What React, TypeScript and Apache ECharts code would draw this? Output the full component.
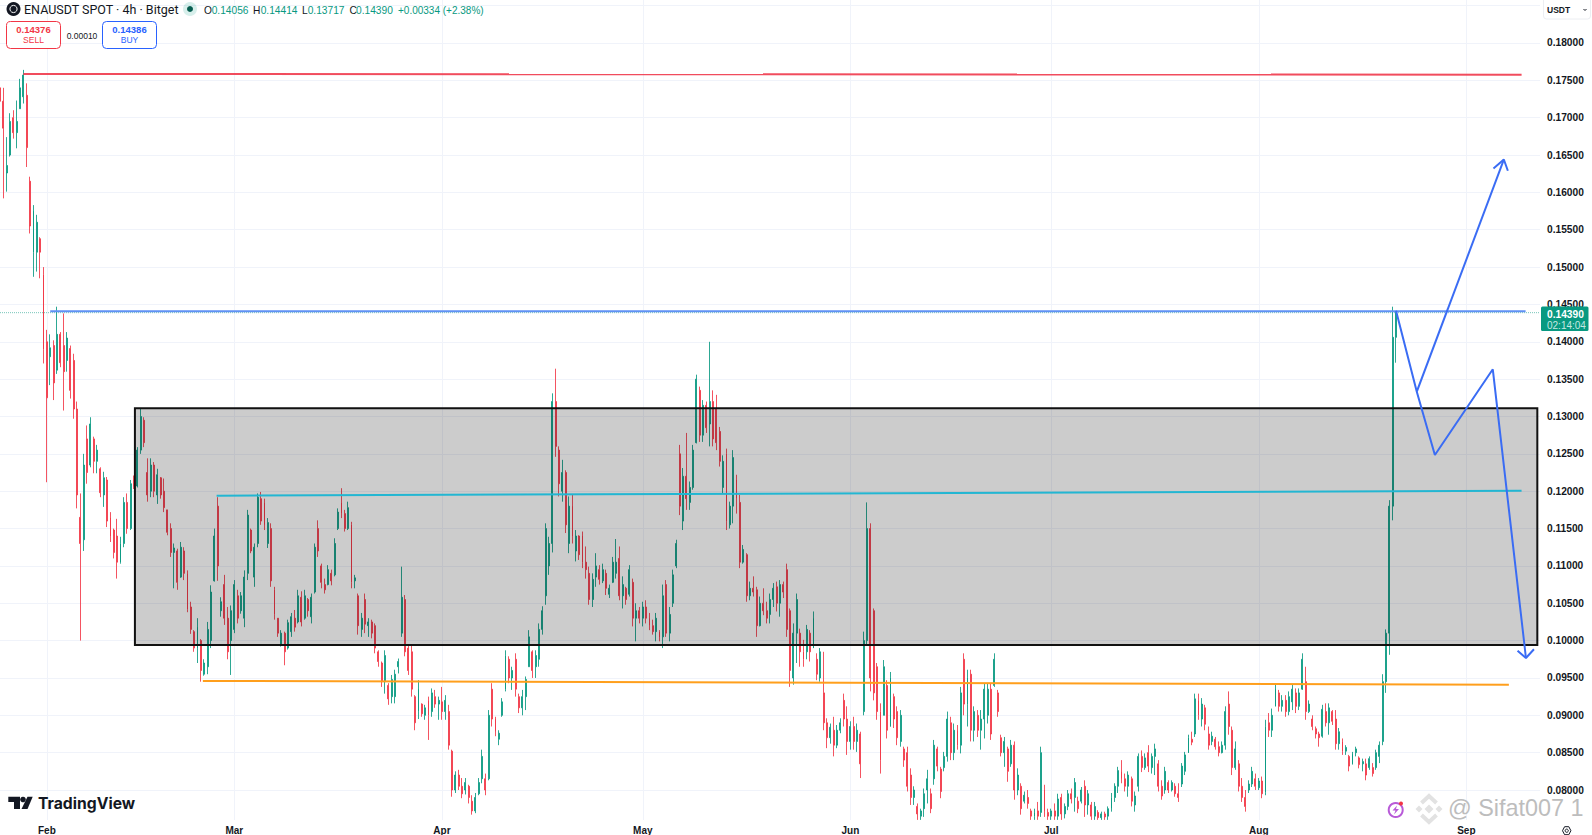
import React, { useEffect, useRef } from "react";
import * as echarts from "echarts";

// Prices are in ten-thousandths of USDT. One row per 12 hours: [open, high, low, close]
const janCandles = [
[1740,1750,1715,1722],[1722,1740,1592,1686],[1626,1674,1601,1636],[1650,1706,1648,1695],[1700,1710,1672,1680],[1680,1723,1659,1695],[1712,1752,1712,1740],
[1728,1764,1719,1757],[1730,1746,1634,1660],[1615,1621,1545,1555],[1520,1583,1487,1575],[1520,1570,1494,1560],[1538,1540,1485,1520],[1490,1500,1371,1390],
];
const febCandles = [
[1400,1416,1212,1325],[1380,1410,1342,1392],[1395,1402,1322,1345],[1362,1447,1357,1410],[1410,1413,1366,1372],[1395,1438,1308,1360],[1375,1413,1360,1405],
[1391,1395,1324,1335],[1375,1384,1297,1310],[1310,1320,1177,1195],[1165,1197,1000,1130],[1135,1250,1120,1235],[1270,1288,1210,1225],[1235,1299,1232,1290],
[1270,1273,1224,1240],[1240,1262,1224,1255],[1230,1232,1192,1198],[1195,1226,1179,1218],[1215,1219,1152,1160],[1165,1172,1132,1140],[1148,1150,1110,1118],
[1140,1163,1083,1105],[1105,1139,1103,1130],[1130,1192,1125,1185],[1185,1197,1143,1150],[1150,1215,1148,1210],[1215,1221,1203,1207],[1207,1259,1205,1255],
[1255,1310,1250,1300],[1295,1299,1259,1265],[1225,1244,1186,1195],[1200,1244,1192,1235],[1235,1239,1192,1200],[1195,1230,1183,1222],[1218,1219,1190,1195],
[1200,1217,1172,1178],[1175,1175,1141,1145],[1150,1157,1112,1118],[1118,1130,1070,1124],[1120,1123,1068,1078],[1085,1132,1084,1125],[1120,1125,1081,1090],
[1090,1094,1038,1042],[1045,1052,1009,1015],[1012,1014,985,990],[990,1030,970,1018],[1000,1002,945,960],[955,975,953,970],[965,1025,955,1015],
[1000,1074,990,1065],[1080,1150,1079,1140],[1180,1192,1080,1100],[1040,1058,1032,1052],[1075,1088,1021,1030],[1030,1045,975,985],[1000,1047,954,1040],
];
const marCandles = [
[1015,1081,1010,1075],[1060,1068,1023,1030],[1040,1065,1036,1060],[1030,1094,1018,1085],[1090,1175,1081,1168],[1148,1150,1117,1120],[1085,1130,1072,1125],
[1130,1197,1125,1192],[1190,1199,1155,1160],[1185,1190,1148,1155],[1130,1164,1124,1158],[1150,1157,1072,1080],[1068,1072,1028,1035],[1030,1030,1005,1010],
[995,1014,992,1010],[1010,1012,967,985],[990,1028,988,1024],[1012,1037,1005,1032],[1030,1041,1012,1018],[1025,1068,1023,1060],[1058,1066,1019,1025],
[1030,1068,1028,1060],[1055,1057,1032,1040],[1032,1063,1023,1058],[1065,1130,1063,1125],[1150,1161,1112,1120],[1100,1103,1070,1078],[1075,1083,1063,1068],
[1075,1101,1074,1095],[1090,1095,1074,1080],[1088,1137,1086,1130],[1150,1177,1148,1172],[1185,1204,1164,1170],[1170,1175,1146,1150],[1150,1186,1148,1178],
[1155,1159,1070,1078],[1080,1088,1070,1084],[1060,1063,1008,1020],[1015,1037,1005,1030],[1055,1063,1010,1022],[1020,1030,1005,1025],[1025,1028,1003,1010],
[1020,1023,983,990],[985,987,965,972],[970,972,938,945],[945,987,929,980],[940,943,914,922],[925,954,916,948],[925,961,916,955],[965,976,956,972],
[1010,1099,1005,1058],[1055,1061,979,985],[990,994,954,960],[985,994,925,935],[925,927,880,890],[905,947,895,935],[915,916,898,902],[900,914,894,910],
[920,925,867,900],[905,936,898,930],[925,934,910,915],[915,925,894,920],
];
const aprCandles = [
[918,938,894,905],[905,927,894,920],[905,914,854,860],[852,854,791,800],[800,825,796,820],[820,827,800,805],[805,816,789,795],[800,816,794,810],
[805,807,782,790],[785,793,767,772],[772,796,769,790],[795,816,793,810],[815,854,809,845],[815,822,793,800],[815,907,813,900],[935,943,885,895],
[895,898,872,878],[868,880,860,876],[900,923,898,918],[935,987,932,980],[975,979,943,950],[950,965,934,960],[975,983,925,935],[925,929,903,910],
[910,934,900,925],[925,952,907,948],[965,1014,965,1005],[985,987,950,960],[965,987,950,980],[975,1023,965,1015],[1015,1046,1008,1040],[1060,1157,1048,1150],
[1100,1139,1088,1130],[1130,1331,1118,1320],[1320,1364,1246,1260],[1255,1260,1193,1210],[1200,1242,1186,1225],[1225,1228,1144,1155],[1130,1193,1117,1180],
[1180,1195,1130,1140],[1120,1148,1106,1140],[1140,1141,1108,1115],[1140,1146,1097,1105],[1105,1126,1083,1095],[1090,1099,1048,1055],[1055,1090,1045,1082],
[1085,1117,1072,1100],[1095,1101,1075,1082],[1080,1103,1077,1095],[1090,1095,1061,1070],[1062,1075,1057,1070],[1078,1112,1077,1105],[1090,1136,1083,1105],
[1110,1126,1054,1060],[1060,1086,1043,1075],[1070,1072,1048,1055],[1062,1101,1059,1095],[1078,1083,1019,1030],[1030,1050,999,1040],[1040,1045,1023,1030],
];
const mayCandles = [
[1030,1052,1019,1045],[1045,1054,1023,1030],[1030,1037,1014,1020],[1020,1028,1008,1012],[1012,1037,999,1030],[1012,1014,999,1004],[1005,1075,990,1060],
[1075,1081,1005,1010],[1010,1045,999,1035],[1050,1095,1045,1088],[1100,1135,1097,1130],[1250,1262,1168,1180],[1160,1231,1148,1220],[1220,1278,1175,1190],
[1185,1213,1175,1205],[1205,1262,1202,1255],[1265,1356,1264,1350],[1335,1340,1266,1275],[1275,1322,1266,1315],[1315,1320,1278,1285],[1290,1400,1260,1320],
[1320,1335,1260,1270],[1310,1329,1255,1265],[1280,1286,1233,1240],[1205,1248,1197,1240],[1250,1257,1148,1160],[1155,1186,1150,1180],[1180,1255,1157,1245],
[1215,1222,1170,1190],[1185,1195,1097,1105],[1105,1128,1103,1122],[1115,1117,1052,1060],[1060,1079,1054,1070],[1070,1086,1059,1065],[1068,1072,1005,1020],
[1020,1059,1019,1050],[1050,1070,1034,1040],[1040,1052,1023,1030],[1035,1063,1023,1055],[1055,1077,1045,1070],[1072,1079,1039,1050],[1050,1081,1032,1075],
[1075,1079,1057,1065],[1095,1103,1005,1015],[1040,1043,938,960],[950,1023,941,1010],[1010,1063,970,1055],[1010,1016,965,985],[985,1001,965,975],
[985,1021,975,1015],[1010,1014,972,985],[990,1039,990,1030],[975,983,947,955],[950,990,945,985],[930,985,880,890],[890,896,856,870],[870,889,862,884],
[880,898,845,860],[860,887,856,880],[880,896,876,890],[920,929,885,895],[895,912,847,865],
];
const junCandles = [
[865,892,854,885],[885,898,854,865],[865,889,851,880],[875,878,816,835],[905,1012,900,1000],[1000,1185,994,1150],[1150,1157,932,950],[1040,1043,920,930],
[965,970,894,905],[905,916,822,840],[900,974,900,965],[940,947,869,880],[885,958,885,950],[925,929,883,895],[905,912,860,870],[865,907,858,900],
[855,858,831,840],[850,858,798,805],[820,829,780,790],[790,805,780,800],[778,782,760,768],[765,775,760,772],[775,802,764,795],[800,827,782,815],
[795,802,769,775],[815,867,807,860],[855,858,825,832],[828,831,789,798],[830,851,825,845],[845,905,838,895],[890,898,840,850],[850,889,840,880],
[880,887,854,860],[860,938,849,930],[975,983,900,915],[915,961,885,950],[955,961,865,880],[880,912,865,905],[900,907,871,880],[880,907,854,895],
[895,943,869,935],[900,943,889,935],[935,943,867,875],[940,983,938,975],[930,934,898,905],[870,874,845,850],[850,871,831,865],[855,858,811,825],
[835,867,831,860],[860,865,787,800],[800,829,793,820],[805,809,767,775],[785,798,782,793],[790,800,775,782],[772,775,760,765],[765,775,760,770],
[772,784,760,765],[770,858,764,850],[800,807,764,772],[770,775,760,765],
];
const julCandles = [
[765,775,760,772],[772,782,760,765],[765,795,760,788],[790,795,760,768],[768,782,762,778],[778,800,773,795],[795,802,782,788],[790,816,771,810],
[785,791,769,775],[785,804,782,800],[805,813,764,780],[780,800,767,795],[780,784,760,765],[765,784,760,778],[770,773,760,763],[763,771,760,768],
[768,771,760,764],[765,778,760,775],[775,796,771,790],[790,809,784,805],[805,831,796,826],[825,840,809,815],[815,822,798,805],[805,825,791,820],
[815,818,778,785],[780,798,771,792],[805,849,798,845],[845,853,824,830],[830,849,827,843],[850,860,824,832],[830,849,822,845],[845,862,820,855],
[835,840,798,805],[805,813,787,792],[800,831,795,825],[810,813,796,800],[800,813,798,810],[805,809,791,795],[795,809,784,790],[808,836,804,832],
[825,851,820,847],[850,874,851,870],[868,878,860,864],[875,929,871,922],[920,929,894,900],[895,923,885,915],[910,914,880,888],[875,885,854,860],
[865,878,860,872],[868,871,854,858],[858,865,845,850],[850,865,849,860],[860,912,854,905],[915,932,874,885],[880,885,820,830],[830,865,827,855],
[835,840,798,805],[805,816,784,790],[790,800,771,778],[800,813,796,808],[808,831,804,825],[815,822,800,805],
];
const augCandles = [
[803,816,800,812],[812,818,789,795],[797,894,793,885],[890,903,871,880],[880,909,871,900],[912,941,912,935],[930,934,905,912],[912,927,905,920],
[920,927,898,905],[905,932,900,925],[918,941,907,935],[930,936,903,912],[912,936,907,930],[935,983,934,975],[945,965,894,905],[905,920,903,915],
[895,900,880,885],[882,885,869,875],[875,878,858,870],[872,914,870,908],[905,916,885,890],[890,916,874,910],[905,907,887,892],[895,907,854,862],
[862,883,854,878],[865,869,847,852],[852,860,847,857],[845,847,825,832],[835,851,834,848],[850,858,845,855],[843,845,829,834],[835,842,825,838],
[835,842,813,820],[830,845,827,842],[830,836,818,822],[830,854,827,850],[845,865,836,860],[865,955,860,945],[945,1015,930,1010],[1010,1188,981,1180],
[1180,1447,1161,1406],[1406,1441,1372,1439],
];

const monthLabels = ["Feb", "Mar", "Apr", "May", "Jun", "Jul", "Aug", "Sep"];
const monthBars = [14, 70, 132, 192, 254, 314, 376, 438];
const priceTicks = [0.08, 0.085, 0.09, 0.095, 0.1, 0.105, 0.11, 0.115, 0.12, 0.125, 0.13, 0.135, 0.14, 0.145, 0.15, 0.155, 0.16, 0.165, 0.17, 0.175, 0.18];
const gridTicks = [...priceTicks, 0.185];

// Drawings as [bar position, price]
const resistanceLine = [[7, 0.17585], [454.5, 0.17576]];
const peakLine = [[15, 0.1441], [455.7, 0.1441]];
const lastPriceLine = [[0, 0.1439], [460, 0.1439]];
const midLine = [[64.7, 0.1194], [454.5, 0.12005]];
const supportLine = [[60.6, 0.0946], [450.7, 0.0941]];
const rangeBox = [[40.3, 0.1311, 459.2, 0.0994]];
const downPath = [[417, 0.14416], [423.2, 0.13332], [428.6, 0.12485], [445.9, 0.13632], [455.8, 0.09767]];
const downHead = [[453.3, 0.09865], [455.8, 0.09767], [458.2, 0.09884]];
const upPath = [[423.2, 0.13332], [449.2, 0.1644]];
const upHead = [[446.1, 0.1632], [449.2, 0.1644], [450.4, 0.1629]];

const GREEN = "#089981";
const RED = "#f23645";
const DARK = "#131722";
const FONT = "'Liberation Sans', Arial, sans-serif";
const MARK = "#e2e2e2";

const allCandles = [...janCandles, ...febCandles, ...marCandles, ...aprCandles, ...mayCandles, ...junCandles, ...julCandles, ...augCandles];
const BAR_COUNT = 461;
const categories: string[] = [];
for (let i = 0; i < BAR_COUNT; i++) {
  categories.push(new Date(Date.UTC(2025, 0, 25) + i * 43200000).toISOString().slice(0, 16));
}

const label = (text: string, x: number, y: number, size: number, fill: string, extra: any = {}) => ({
  type: "text",
  z: 100,
  style: { text, x, y, fontSize: size, fontFamily: FONT, fill, textVerticalAlign: "middle", textAlign: "left", ...extra },
});

const drawing = (data: number[][], color: string, width: number, type = "solid", opacity = 1) => ({
  type: "line",
  xAxisIndex: 1,
  yAxisIndex: 0,
  data,
  symbol: "none",
  silent: true,
  z: 6,
  lineStyle: { color, width, type, opacity },
});

export default function App() {
  const ref = useRef<HTMLDivElement>(null);
  useEffect(() => {
    const chart = echarts.init(ref.current!, null, { renderer: "svg" });
    const graphic = [
      { type: "circle", z: 100, shape: { cx: 13.5, cy: 9, r: 7 }, style: { fill: DARK } },
      { type: "circle", z: 101, shape: { cx: 13.5, cy: 9, r: 3.6 }, style: { fill: "none", stroke: "#fff", lineWidth: 1 } },
      label("ENAUSDT SPOT · 4h · Bitget", 24, 9, 12.5, DARK, { fontFamily: "Roboto, sans-serif" }),
      { type: "circle", z: 100, shape: { cx: 190, cy: 9, r: 7 }, style: { fill: "rgba(8,153,129,0.16)" } },
      { type: "circle", z: 101, shape: { cx: 190, cy: 9, r: 3 }, style: { fill: "#075e50" } },
      label("O", 204, 10, 10.2, DARK), label("0.14056", 211.7, 10, 10.2, GREEN),
      label("H", 253, 10, 10.2, DARK), label("0.14414", 260.7, 10, 10.2, GREEN),
      label("L", 302, 10, 10.2, DARK), label("0.13717", 307.7, 10, 10.2, GREEN),
      label("C", 349.5, 10, 10.2, DARK), label("0.14390", 356, 10, 10.2, GREEN),
      label("+0.00334 (+2.38%)", 398, 10, 10, GREEN),
      { type: "rect", z: 100, shape: { x: 6.5, y: 21.5, width: 54, height: 27, r: 4 }, style: { fill: "#fff", stroke: RED, lineWidth: 1 } },
      label("0.14376", 33.5, 29.5, 9.5, RED, { textAlign: "center", fontWeight: "bold" }),
      label("SELL", 33.5, 40, 8.5, RED, { textAlign: "center" }),
      label("0.00010", 82, 35.5, 8.5, DARK, { textAlign: "center" }),
      { type: "rect", z: 100, shape: { x: 102.5, y: 21.5, width: 54, height: 27, r: 4 }, style: { fill: "#fff", stroke: "#2962ff", lineWidth: 1 } },
      label("0.14386", 129.5, 29.5, 9.5, "#2962ff", { textAlign: "center", fontWeight: "bold" }),
      label("BUY", 129.5, 40, 8.5, "#2962ff", { textAlign: "center" }),
      { type: "rect", z: 100, shape: { x: 1543.5, y: -3, width: 47, height: 22, r: 3 }, style: { fill: "#fff", stroke: "#eceef2", lineWidth: 1 } },
      label("USDT", 1547, 9.5, 8.5, DARK, { fontWeight: "bold" }),
      { type: "polyline", z: 101, shape: { points: [[1583.5, 9], [1585, 10.5], [1586.5, 9]] }, style: { stroke: DARK, fill: "none", lineWidth: 1 } },
      { type: "rect", z: 100, shape: { x: 1541, y: 306.5, width: 47.5, height: 24.5, r: 1.5 }, style: { fill: GREEN } },
      label("0.14390", 1547, 314, 10.2, "#fff", { fontWeight: "bold" }),
      label("02:14:04", 1547, 325, 10, "#c4e8e1"),
      { type: "polygon", z: 100, shape: { points: [[8.3, 796.7], [20, 796.7], [20, 809], [14, 809], [14, 802], [8.3, 802]] }, style: { fill: DARK } },
      { type: "circle", z: 100, shape: { cx: 23, cy: 799.5, r: 2.8 }, style: { fill: DARK } },
      { type: "polygon", z: 100, shape: { points: [[27.5, 796.7], [32.7, 796.7], [27.5, 809], [21.5, 809]] }, style: { fill: DARK } },
      label("TradingView", 38, 803.5, 15.7, DARK, { fontWeight: "bold", fontFamily: "Inter, 'Liberation Sans', sans-serif" }),
      { type: "circle", z: 100, shape: { cx: 1395.7, cy: 810, r: 7 }, style: { fill: "none", stroke: "#b85ad8", lineWidth: 2 } },
      { type: "polygon", z: 101, shape: { points: [[1397, 805.5], [1392.5, 810.5], [1395.5, 810.5], [1394, 814.5], [1399, 809], [1396, 809]] }, style: { fill: "#b85ad8" } },
      { type: "circle", z: 102, shape: { cx: 1401, cy: 803.5, r: 2 }, style: { fill: "#f23645" } },
      { type: "polyline", z: 100, shape: { points: [[1421.5, 803], [1429, 796], [1436.5, 803]] }, style: { fill: "none", stroke: MARK, lineWidth: 4 } },
      { type: "polyline", z: 100, shape: { points: [[1421.5, 815], [1429, 822], [1436.5, 815]] }, style: { fill: "none", stroke: MARK, lineWidth: 4 } },
      { type: "polygon", z: 100, shape: { points: [[1429, 804.5], [1433.5, 809], [1429, 813.5], [1424.5, 809]] }, style: { fill: MARK } },
      { type: "polygon", z: 100, shape: { points: [[1419, 805.5], [1422.5, 809], [1419, 812.5], [1415.5, 809]] }, style: { fill: MARK } },
      { type: "polygon", z: 100, shape: { points: [[1439, 805.5], [1442.5, 809], [1439, 812.5], [1435.5, 809]] }, style: { fill: MARK } },
      label("@ Sifat007 1", 1448, 808, 23.4, "#bdbdbd"),
      { type: "polygon", z: 100, shape: { points: [[1562.5, 830.7], [1564.6, 826.7], [1568.8, 826.7], [1570.9, 830.7], [1568.8, 834.7], [1564.6, 834.7]] }, style: { fill: "none", stroke: DARK, lineWidth: 1 } },
      { type: "circle", z: 100, shape: { cx: 1566.7, cy: 830.7, r: 1.6 }, style: { fill: "none", stroke: DARK, lineWidth: 1 } },
    ];
    chart.setOption({
      animation: false,
      backgroundColor: "#ffffff",
      textStyle: { fontFamily: FONT },
      grid: { left: 0, top: 0, width: 1540, height: 820, containLabel: false },
      xAxis: [
        {
          type: "category",
          data: categories,
          boundaryGap: false,
          axisLine: { show: false },
          axisTick: { show: false },
          splitLine: {
            show: true,
            interval: (i: number) => monthBars.includes(i),
            lineStyle: { color: "#f0f3fa", width: 1 },
          },
          axisLabel: {
            show: true,
            interval: (i: number) => monthBars.includes(i),
            formatter: (_v: string, i: number) => monthLabels[monthBars.indexOf(i)] ?? "",
            color: DARK,
            fontSize: 10,
            fontFamily: FONT,
            fontWeight: "bold",
            margin: 5,
            hideOverlap: false,
          },
        },
        { type: "value", min: 0, max: 460, show: false, splitLine: { show: false } },
      ],
      yAxis: [
        {
          type: "value",
          position: "right",
          min: 0.075984,
          max: 0.185756,
          axisLine: { show: false },
          axisTick: { show: false, customValues: gridTicks },
          splitLine: { show: true, customValues: gridTicks, lineStyle: { color: "#f0f3fa", width: 1 } },
          axisLabel: {
            customValues: priceTicks,
            formatter: (v: number) => v.toFixed(5),
            color: DARK,
            fontSize: 10.2,
            fontWeight: "bold",
            fontFamily: FONT,
            margin: 7,
            showMinLabel: true,
            showMaxLabel: true,
          },
        },
      ],
      series: [
        {
          type: "candlestick",
          xAxisIndex: 0,
          yAxisIndex: 0,
          z: 2,
          barWidth: 1.4,
          silent: true,
          itemStyle: { color: GREEN, color0: RED, borderColor: GREEN, borderColor0: RED, borderWidth: 1, opacity: 0.85 },
          data: allCandles.map(([o, h, l, c]) => [o / 10000, c / 10000, l / 10000, h / 10000]),
        },
        {
          type: "custom",
          xAxisIndex: 1,
          yAxisIndex: 0,
          z: 4,
          silent: true,
          clip: false,
          encode: { x: [0, 2], y: [1, 3] },
          data: rangeBox,
          renderItem: (_p: any, api: any) => {
            const a = api.coord([api.value(0), api.value(1)]);
            const b = api.coord([api.value(2), api.value(3)]);
            return {
              type: "rect",
              shape: { x: a[0], y: a[1], width: b[0] - a[0], height: b[1] - a[1] },
              style: { fill: "rgba(0,0,0,0.2)", stroke: "#111111", lineWidth: 2 },
            };
          },
        },
        drawing(lastPriceLine, GREEN, 1, "dotted", 0.55),
        drawing(resistanceLine, "#f0394b", 2, "solid", 0.9),
        drawing(peakLine, "#5f91f4", 2),
        drawing(midLine, "#22b6d2", 2),
        drawing(supportLine, "#ff9f1c", 2),
        drawing(downPath, "#3a6cf4", 2),
        drawing(downHead, "#3a6cf4", 2),
        drawing(upPath, "#3a6cf4", 2),
        drawing(upHead, "#3a6cf4", 2),
      ],
      graphic,
    });
    return () => chart.dispose();
  }, []);
  return <div ref={ref} style={{ position: "absolute", left: 0, top: 0, width: 1592, height: 835, background: "#fff" }} />;
}
